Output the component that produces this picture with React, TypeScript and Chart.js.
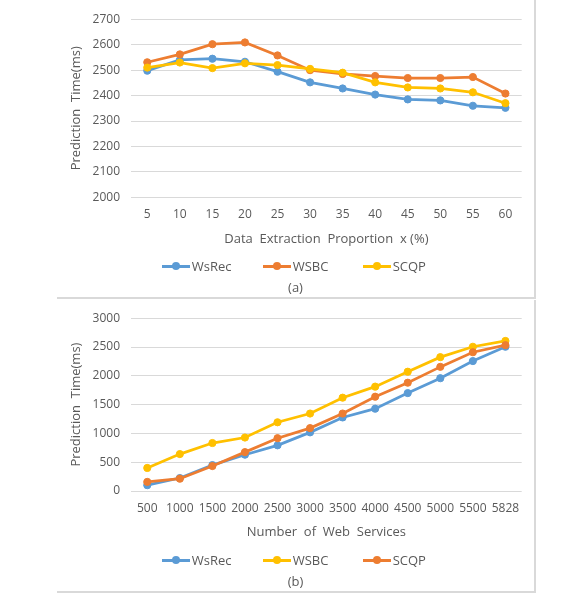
import React, { useEffect, useRef } from "react";
import { Chart, registerables } from "chart.js";

Chart.register(...registerables);

// ---------- data ----------
const proportionLabels = ["5", "10", "15", "20", "25", "30", "35", "40", "45", "50", "55", "60"];
const topWsRec = [2498, 2540, 2545, 2533, 2494, 2452, 2428, 2404, 2385, 2381, 2360, 2352];
const topWSBC = [2531, 2562, 2602, 2609, 2558, 2500, 2485, 2477, 2469, 2469, 2473, 2408];
const topSCQP = [2510, 2530, 2508, 2527, 2520, 2505, 2490, 2452, 2432, 2428, 2413, 2370];

const serviceLabels = ["500", "1000", "1500", "2000", "2500", "3000", "3500", "4000", "4500", "5000", "5500", "5828"];
const botWsRec = [101, 225, 450, 630, 793, 1018, 1277, 1429, 1700, 1958, 2256, 2504];
const botWSBC = [400, 641, 833, 928, 1193, 1345, 1620, 1812, 2071, 2324, 2504, 2605];
const botSCQP = [158, 214, 433, 675, 917, 1092, 1345, 1637, 1880, 2155, 2409, 2532];

const topYRange = [2000, 2700, 100];
const botYRange = [0, 3000, 500];

const BLUE = "#5B9BD5";
const ORANGE = "#ED7D31";
const YELLOW = "#FFC000";
const TEXT = "#595959";
const GRID = "#d9d9d9";
const FONT = "'Open Sans', 'Noto Sans', sans-serif";

type Series = { name: string; color: string; values: number[] };

type PanelProps = {
  top: number;
  height: number;
  padTop: number;
  padBottom: number;
  labels: string[];
  series: Series[];
  yRange: number[];
  xTitle: string;
  caption: string;
};

const PANEL_LEFT = 57;
const PANEL_WIDTH = 477;

function ChartPanel(p: PanelProps) {
  const ref = useRef<HTMLCanvasElement | null>(null);
  useEffect(() => {
    if (!ref.current) return;
    const n = p.series.length;
    const chart = new Chart(ref.current, {
      type: "line",
      data: {
        labels: p.labels,
        datasets: p.series.map((s, i) => ({
          label: s.name,
          data: s.values,
          borderColor: s.color,
          backgroundColor: s.color,
          borderWidth: 2.75,
          pointRadius: 3.6,
          pointBorderWidth: 1,
          pointBackgroundColor: s.color,
          pointBorderColor: s.color,
          tension: 0,
          order: n - i,
        })),
      },
      options: {
        animation: false,
        responsive: false,
        devicePixelRatio: 1,
        layout: { padding: { left: 0, right: 12.3, top: p.padTop, bottom: p.padBottom } },
        plugins: { legend: { display: false }, tooltip: { enabled: false } },
        scales: {
          x: {
            type: "category",
            offset: true,
            grid: { display: false, drawTicks: false },
            border: { display: false },
            ticks: {
              color: TEXT,
              font: { family: FONT, size: 12 },
              padding: 10,
              autoSkip: false,
              maxRotation: 0,
              minRotation: 0,
            },
            title: {
              display: true,
              text: p.xTitle,
              color: TEXT,
              font: { family: FONT, size: 13 },
              padding: { top: 4, bottom: 0.5 },
            },
            afterFit: (scale: any) => {
              scale.height = 50;
            },
          },
          y: {
            min: p.yRange[0],
            max: p.yRange[1],
            grid: { color: GRID, lineWidth: 1, drawTicks: false },
            border: { display: false },
            ticks: {
              stepSize: p.yRange[2],
              color: TEXT,
              font: { family: FONT, size: 12 },
              padding: 11,
              callback: (v: any) => String(v),
            },
            title: {
              display: true,
              text: "Prediction  Time(ms)",
              color: TEXT,
              font: { family: FONT, size: 13 },
              padding: { top: 11.2, bottom: 0 },
            },
            afterFit: (scale: any) => {
              scale.width = 74;
            },
          },
        },
      },
    });
    return () => chart.destroy();
  }, []);

  const legendY = p.top + p.height - 31;
  const captionY = p.top + p.height - 10.5;
  const legendXs = [161.7, 262.7, 362.7];

  return (
    <>
      <div
        style={{
          position: "absolute",
          left: PANEL_LEFT,
          top: p.top,
          width: PANEL_WIDTH,
          height: p.height,
          borderRight: `2px solid ${GRID}`,
          borderBottom: `2px solid ${GRID}`,
          boxSizing: "content-box",
        }}
      >
        <canvas ref={ref} width={PANEL_WIDTH} height={p.height} style={{ position: "absolute", left: 0, top: 0 }} />
      </div>
      {p.series.map((s, i) => (
        <div
          key={s.name}
          style={{
            position: "absolute",
            left: legendXs[i],
            top: legendY - 8,
            height: 16,
            display: "flex",
            alignItems: "center",
            fontFamily: FONT,
            fontSize: 13,
            color: TEXT,
            whiteSpace: "nowrap",
          }}
        >
          <span style={{ position: "relative", display: "inline-block", width: 28, height: 9 }}>
            <span style={{ position: "absolute", left: 0, right: 0, top: 3, height: 3, background: s.color }} />
            <span
              style={{ position: "absolute", left: 10, top: 0.5, width: 8, height: 8, borderRadius: "50%", background: s.color }}
            />
          </span>
          <span style={{ marginLeft: 2, lineHeight: "16px" }}>{s.name}</span>
        </div>
      ))}
      <div
        style={{
          position: "absolute",
          left: PANEL_LEFT,
          width: PANEL_WIDTH,
          top: captionY - 8,
          lineHeight: "16px",
          textAlign: "center",
          fontFamily: FONT,
          fontSize: 13,
          color: TEXT,
        }}
      >
        {p.caption}
      </div>
    </>
  );
}

export default function App() {
  return (
    <div style={{ position: "absolute", left: 0, top: 0, width: 582, height: 603, background: "#fff" }}>
      <ChartPanel
        top={0}
        height={297}
        padTop={19.3}
        padBottom={49.7}
        labels={proportionLabels}
        series={[
          { name: "WsRec", color: BLUE, values: topWsRec },
          { name: "WSBC", color: ORANGE, values: topWSBC },
          { name: "SCQP", color: YELLOW, values: topSCQP },
        ]}
        yRange={topYRange}
        xTitle="Data  Extraction  Proportion  x (%)"
        caption="(a)"
      />
      <ChartPanel
        top={300}
        height={291}
        padTop={13.3}
        padBottom={50}
        labels={serviceLabels}
        series={[
          { name: "WsRec", color: BLUE, values: botWsRec },
          { name: "WSBC", color: YELLOW, values: botWSBC },
          { name: "SCQP", color: ORANGE, values: botSCQP },
        ]}
        yRange={botYRange}
        xTitle="Number  of  Web  Services"
        caption="(b)"
      />
    </div>
  );
}
